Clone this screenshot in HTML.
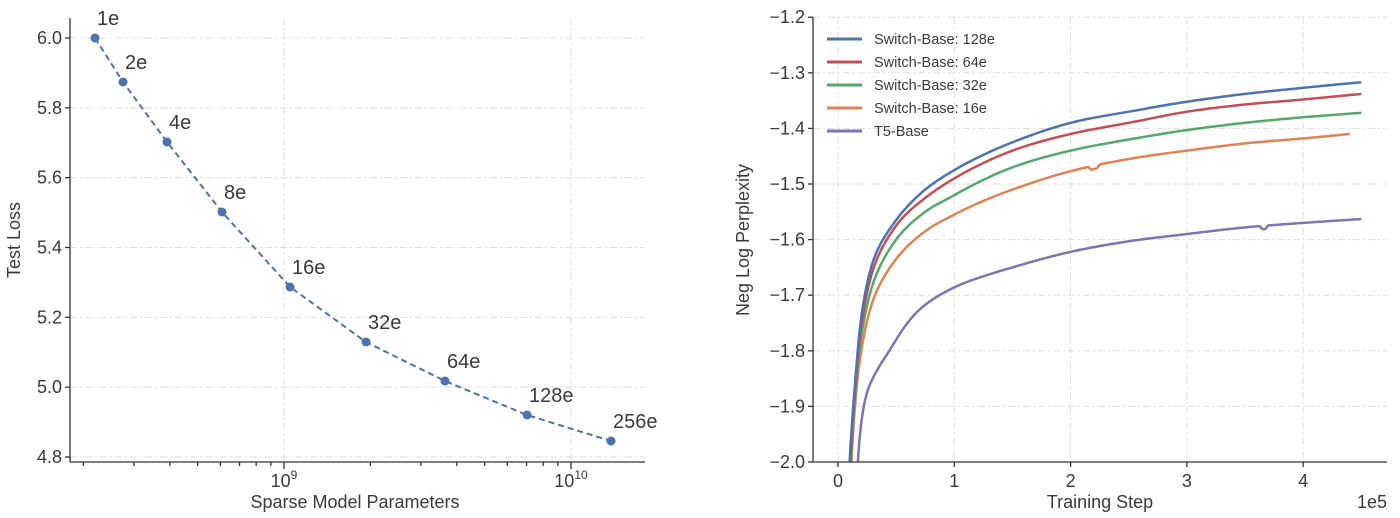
<!DOCTYPE html>
<html><head><meta charset="utf-8"><style>
html,body{margin:0;padding:0;background:#fff;}
svg{display:block;font-family:"Liberation Sans",sans-serif;}
</style></head><body>
<svg id="s" width="1400" height="518" viewBox="0 0 1400 518" xmlns="http://www.w3.org/2000/svg">
<g id="g"></g>
<text x="20" y="240" font-size="18" fill="#3a3a3a" text-anchor="middle" transform="rotate(-90 20 240)">Test Loss</text>
<text x="355" y="508" font-size="18" fill="#3a3a3a" text-anchor="middle">Sparse Model Parameters</text>
<text x="749" y="240" font-size="18" fill="#3a3a3a" text-anchor="middle" transform="rotate(-90 749 240)">Neg Log Perplexity</text>
<text x="1100" y="508" font-size="18" fill="#3a3a3a" text-anchor="middle">Training Step</text>
<text x="1387" y="508" font-size="18" fill="#3a3a3a" text-anchor="end">1e5</text>
<text x="284" y="487" font-size="18" fill="#3a3a3a" text-anchor="middle">10<tspan font-size="12" dy="-8">9</tspan></text>
<text x="571" y="487" font-size="18" fill="#3a3a3a" text-anchor="middle">10<tspan font-size="12" dy="-8">10</tspan></text>
<text x="874" y="44" font-size="14.5" fill="#3a3a3a">Switch-Base: 128e</text>
<text x="874" y="67" font-size="14.5" fill="#3a3a3a">Switch-Base: 64e</text>
<text x="874" y="90" font-size="14.5" fill="#3a3a3a">Switch-Base: 32e</text>
<text x="874" y="113" font-size="14.5" fill="#3a3a3a">Switch-Base: 16e</text>
<text x="874" y="136" font-size="14.5" fill="#3a3a3a">T5-Base</text>
</svg>
<script>
var g=document.getElementById('g'),h='';
function L(x1,y1,x2,y2,st){h+='<line x1="'+x1+'" y1="'+y1+'" x2="'+x2+'" y2="'+y2+'" '+st+'/>';}
function T(x,y,t,a,fs){h+='<text x="'+x+'" y="'+y+'" font-size="'+(fs||18)+'" fill="#3a3a3a" text-anchor="'+a+'">'+t+'</text>';}
var grid='stroke="#ddd" stroke-width="1" stroke-dasharray="7,3,2,3"';
var ax='stroke="#333" stroke-width="1.3"';
for(var i=0;i<7;i++){var v=6.0-0.2*i,y=38+i*69.83;L(70,y,645,y,grid);L(65,y,70,y,ax);T(62,y+6,v.toFixed(1),'end');}
L(284,18,284,462,grid);L(571,18,571,462,grid);
for(var d=8;d<=10;d++)for(var m=1;m<10;m++){var x=284+287*((d-9)+Math.log10(m));if(x<72||x>645)continue;L(x,462,x,m==1?469:466,ax);}
L(70,18,70,462,ax);L(70,462,645,462,ax);
var pts=[[95,38,'1e'],[123,82,'2e'],[167,142,'4e'],[222,212,'8e'],[290,287,'16e'],[366,342,'32e'],[445,381,'64e'],[527,415,'128e'],[611,441,'256e']];
var d='';pts.forEach(function(p,i){d+=(i?'L':'M')+p[0]+','+p[1];});
h+='<path d="'+d+'" fill="none" stroke="#4c72b0" stroke-width="2" stroke-dasharray="6,4"/>';
pts.forEach(function(p){h+='<circle cx="'+p[0]+'" cy="'+p[1]+'" r="4.5" fill="#4c72b0"/>';T(p[0]+2,p[1]-13,p[2],'start',20);});
var X0=838,XS=116.3;function py(v){return 462-(v+2.0)/0.1*55.6;}
for(var i=0;i<9;i++){var v=-2.0+0.1*i,y=py(v);if(i>0)L(813,y,1387,y,grid);L(808,y,813,y,ax);T(805,y+6,'\u2212'+Math.abs(v).toFixed(1),'end');}
for(var k=0;k<5;k++){var x=X0+k*XS;L(x,17,x,462,grid);L(x,462,x,467,ax);T(x,487,k,'middle');}
var S=[
['#8172b2',[[0.17,-2.0],[0.2,-1.93],[0.25,-1.875],[0.35,-1.83],[0.45,-1.797],[0.68,-1.73],[1,-1.686],[1.5,-1.65],[2,-1.622],[2.5,-1.603],[3,-1.59],[3.5,-1.578],[4,-1.57],[4.5,-1.563]]],
['#dd8452',[[0.115,-2.0],[0.15,-1.89],[0.2,-1.8],[0.3,-1.71],[0.5,-1.635],[0.75,-1.585],[1,-1.555],[1.5,-1.51],[2,-1.477],[2.5,-1.455],[3,-1.44],[3.5,-1.427],[4,-1.418],[4.4,-1.41]]],
['#55a868',[[0.11,-2.0],[0.15,-1.87],[0.2,-1.775],[0.3,-1.68],[0.5,-1.6],[0.75,-1.55],[1,-1.52],[1.5,-1.47],[2,-1.44],[2.5,-1.42],[3,-1.403],[3.5,-1.39],[4,-1.38],[4.5,-1.372]]],
['#c44e52',[[0.105,-2.0],[0.15,-1.86],[0.2,-1.755],[0.3,-1.655],[0.5,-1.575],[0.75,-1.525],[1,-1.49],[1.5,-1.44],[2,-1.41],[2.5,-1.39],[3,-1.37],[3.5,-1.357],[4,-1.348],[4.5,-1.338]]],
['#4c72b0',[[0.1,-2.0],[0.15,-1.85],[0.2,-1.74],[0.3,-1.64],[0.5,-1.565],[0.75,-1.51],[1,-1.475],[1.5,-1.425],[2,-1.39],[2.5,-1.37],[3,-1.352],[3.5,-1.338],[4,-1.327],[4.5,-1.317]]]];
S.forEach(function(s,si){var p=s[1].map(function(q){return [Math.log(q[0]),q[1]];}),d='';
 for(var i=0;i<p.length-1;i++){var p0=p[Math.max(0,i-1)],p1=p[i],p2=p[i+1],p3=p[Math.min(p.length-1,i+2)];
  for(var t=0;t<1.0001;t+=0.05){var t2=t*t,t3=t2*t;
   var u=0.5*((2*p1[0])+(-p0[0]+p2[0])*t+(2*p0[0]-5*p1[0]+4*p2[0]-p3[0])*t2+(-p0[0]+3*p1[0]-3*p2[0]+p3[0])*t3);
   var y=0.5*((2*p1[1])+(-p0[1]+p2[1])*t+(2*p0[1]-5*p1[1]+4*p2[1]-p3[1])*t2+(-p0[1]+3*p1[1]-3*p2[1]+p3[1])*t3);
   var x=Math.exp(u);
   if(si==1&&x>2.17&&x<2.23)y-=0.006;
   if(si==0&&x>3.64&&x<3.69)y-=0.006;
   d+=(d?'L':'M')+(X0+x*XS).toFixed(1)+','+Math.min(463,py(y)).toFixed(1);}}
 h+='<path d="'+d+'" fill="none" stroke="'+s[0]+'" stroke-width="2.5" stroke-linejoin="round"/>';});
L(813,17,813,462,ax);L(813,462,1387,462,ax);
['#4c72b0','#c44e52','#55a868','#dd8452','#8172b2'].forEach(function(c,i){L(827,39+i*23,862,39+i*23,'stroke="'+c+'" stroke-width="3"');});
g.innerHTML=h;
</script>
</body></html>
